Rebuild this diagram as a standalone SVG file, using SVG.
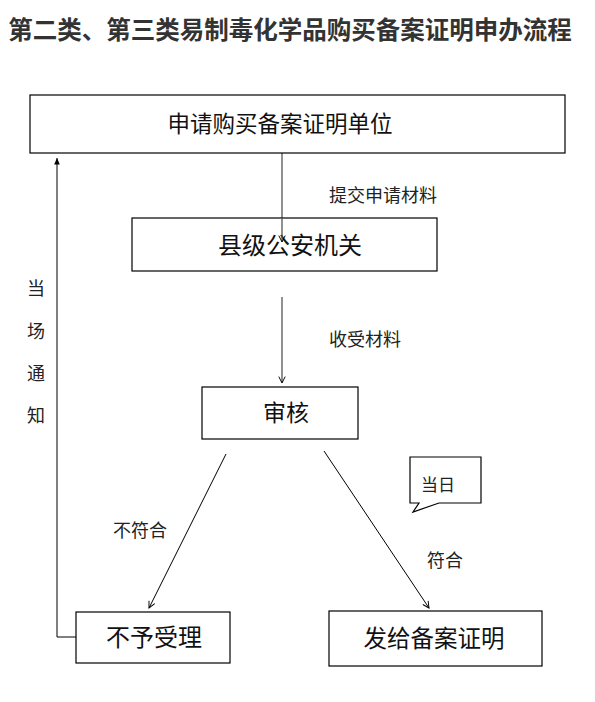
<svg xmlns="http://www.w3.org/2000/svg" width="595" height="702" viewBox="0 0 595 702">
<style>
.box{fill:#fff;stroke:#000;stroke-width:1.2}
.t{font-family:"Liberation Serif","Noto Sans CJK SC",serif;fill:#111;text-anchor:middle}
.big{font-size:23px}
.lbl{font-size:18px;fill:#222}
.ln{fill:none;stroke:#000;stroke-width:1}
.gl{fill:none;stroke:#555;stroke-width:1.3}
</style>
<defs>
<marker id="ah" viewBox="0 0 10 10" refX="9" refY="5" markerWidth="8" markerHeight="8" markerUnits="userSpaceOnUse" orient="auto">
<path d="M1,1 L9,5 L1,9" fill="none" stroke="#000" stroke-width="1.2"/>
</marker>
<marker id="ahf" viewBox="0 0 10 10" refX="9" refY="5" markerWidth="8" markerHeight="8" markerUnits="userSpaceOnUse" orient="auto">
<path d="M1,1.5 L9,5 L1,8.5 Z" fill="#000"/>
</marker>
</defs>
<rect width="595" height="702" fill="#fff"/>
<text x="290" y="39" class="t" style="font-size:24.5px;font-weight:bold;fill:#333;font-family:'Noto Sans CJK SC','Liberation Serif',serif">第二类、第三类易制毒化学品购买备案证明申办流程</text>

<g id="connectors">
<line class="gl" x1="282" y1="153" x2="282" y2="242" marker-end="url(#ah)"/>
<line class="gl" x1="282" y1="297" x2="282" y2="383" marker-end="url(#ah)"/>
<line class="ln" x1="226" y1="454" x2="149" y2="608" marker-end="url(#ah)"/>
<line class="ln" x1="324" y1="451" x2="429" y2="608" marker-end="url(#ah)"/>
<polyline class="ln" points="76,637 57,637 57,158" marker-end="url(#ahf)"/>
<text class="t lbl" x="383" y="202">提交申请材料</text>
<text class="t lbl" x="365" y="346">收受材料</text>
<text class="t lbl" x="140" y="537">不符合</text>
<text class="t lbl" x="445" y="567">符合</text>
<text class="t lbl" x="36" y="295">当</text>
<text class="t lbl" x="36" y="338">场</text>
<text class="t lbl" x="36" y="380">通</text>
<text class="t lbl" x="36" y="422">知</text>
</g>

<g id="n1"><rect class="box" x="30" y="95" width="535" height="58"/><text class="t" style="font-size:22.5px" x="280" y="132">申请购买备案证明单位</text></g>
<g id="n2"><rect class="box" x="132" y="218" width="305" height="53"/><text class="t" style="font-size:24px" x="290" y="254">县级公安机关</text></g>
<line class="gl" x1="282" y1="218" x2="282" y2="242" marker-end="url(#ah)"/>
<g id="n3"><rect class="box" x="202" y="387" width="156" height="52"/><text class="t big" x="286" y="421">审核</text></g>
<g id="n4"><rect class="box" x="76" y="612" width="154" height="51"/><text class="t" style="font-size:24px" x="154" y="646">不予受理</text></g>
<g id="n5"><rect class="box" x="329" y="611" width="213" height="55"/><text class="t" style="font-size:23.5px" x="434" y="647">发给备案证明</text></g>
<g id="callout"><path class="box" d="M410,457 H481 V503 H439 L413,512 L419,503 H410 Z"/><text class="t" style="font-size:17px;fill:#222" x="438" y="491">当日</text></g>
</svg>
